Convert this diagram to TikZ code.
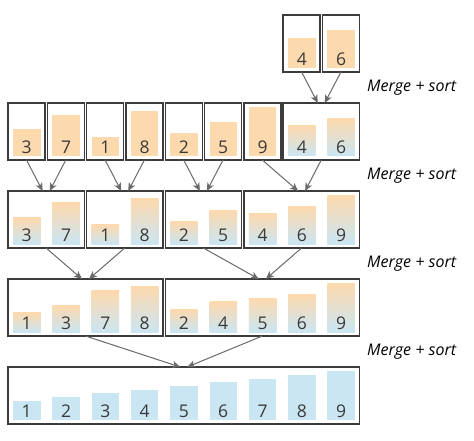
\documentclass[tikz,border=0pt]{standalone}
\usepackage{fontspec}
\setmainfont{Open Sans}
\usetikzlibrary{arrows.meta}
\definecolor{barorange}{HTML}{FDD9AE}
\definecolor{barblue}{HTML}{CBE6F3}
\definecolor{boxline}{HTML}{3C3C3C}
\definecolor{arrgray}{HTML}{6A6A6A}
\definecolor{digitcol}{HTML}{3A3A3A}
\tikzset{
  boxst/.style={draw=boxline, line width=1.4pt, fill=white, minimum height=57pt, inner sep=0pt, outer sep=0pt},
  orangebar/.style={fill=barorange},
  bluebar/.style={fill=barblue},
  gradbar/.style={top color=barorange, bottom color=barblue},
  digit/.style={text=digitcol, font=\fontsize{17.5}{17.5}\selectfont, inner sep=0pt},
  steplabel/.style={font=\fontsize{16}{16}\selectfont\itshape, text=black, anchor=west, inner sep=0pt},
  arr/.style={draw=arrgray, line width=1pt, -{Stealth[length=8pt,width=7pt,inset=2pt]}},
}
\newcommand\mkbox[4]{\node[boxst, minimum width={37+39.3*(#4-#3)}, anchor=north west] (#1) at ({8+39.3*#3},{15+88*#2}) {};}
\newcommand\mkbar[4]{%
  \path[#4] ({13+39.3*#1},{15+88*#2+53}) rectangle ++(27.5,{-(15.5+3.7*#3)});
  \node[digit] at ({26.75+39.3*#1},{15+88*#2+44}) {#3};}
\begin{document}
\begin{tikzpicture}[x=1pt,y=-1pt]
\useasboundingbox[fill=white] (0,0) rectangle (474,441);
% row 0
\mkbox{ra}{0}{7}{7}
\mkbox{rb}{0}{8}{8}
\mkbar{7}{0}{4}{orangebar}
\mkbar{8}{0}{6}{orangebar}
% row 1
\mkbox{sa}{1}{0}{0}
\mkbox{sb}{1}{1}{1}
\mkbox{sc}{1}{2}{2}
\mkbox{sd}{1}{3}{3}
\mkbox{se}{1}{4}{4}
\mkbox{sf}{1}{5}{5}
\mkbox{sg}{1}{6}{6}
\mkbox{sh}{1}{7}{8}
\mkbar{0}{1}{3}{orangebar}
\mkbar{1}{1}{7}{orangebar}
\mkbar{2}{1}{1}{orangebar}
\mkbar{3}{1}{8}{orangebar}
\mkbar{4}{1}{2}{orangebar}
\mkbar{5}{1}{5}{orangebar}
\mkbar{6}{1}{9}{orangebar}
\mkbar{7}{1}{4}{gradbar}
\mkbar{8}{1}{6}{gradbar}
% row 2
\mkbox{ta}{2}{0}{1}
\mkbox{tb}{2}{2}{3}
\mkbox{tc}{2}{4}{5}
\mkbox{td}{2}{6}{8}
\mkbar{0}{2}{3}{gradbar}
\mkbar{1}{2}{7}{gradbar}
\mkbar{2}{2}{1}{gradbar}
\mkbar{3}{2}{8}{gradbar}
\mkbar{4}{2}{2}{gradbar}
\mkbar{5}{2}{5}{gradbar}
\mkbar{6}{2}{4}{gradbar}
\mkbar{7}{2}{6}{gradbar}
\mkbar{8}{2}{9}{gradbar}
% row 3
\mkbox{ua}{3}{0}{3}
\mkbox{ub}{3}{4}{8}
\mkbar{0}{3}{1}{gradbar}
\mkbar{1}{3}{3}{gradbar}
\mkbar{2}{3}{7}{gradbar}
\mkbar{3}{3}{8}{gradbar}
\mkbar{4}{3}{2}{gradbar}
\mkbar{5}{3}{4}{gradbar}
\mkbar{6}{3}{5}{gradbar}
\mkbar{7}{3}{6}{gradbar}
\mkbar{8}{3}{9}{gradbar}
% row 4
\mkbox{va}{4}{0}{8}
\foreach \i in {0,...,8}{\pgfmathtruncatemacro\v{\i+1}\mkbar{\i}{4}{\v}{bluebar}}
% arrows
\draw[arr] (ra.south) -- ([xshift=-3.5pt]sh.north);
\draw[arr] (rb.south) -- ([xshift=3.5pt]sh.north);
\draw[arr] (sa.south) -- ([xshift=-3.5pt]ta.north);
\draw[arr] (sb.south) -- ([xshift=3.5pt]ta.north);
\draw[arr] (sc.south) -- ([xshift=-3.5pt]tb.north);
\draw[arr] (sd.south) -- ([xshift=3.5pt]tb.north);
\draw[arr] (se.south) -- ([xshift=-3.5pt]tc.north);
\draw[arr] (sf.south) -- ([xshift=3.5pt]tc.north);
\draw[arr] (sg.south) -- ([xshift=-3.5pt]td.north);
\draw[arr] (sh.south) -- ([xshift=3.5pt]td.north);
\draw[arr] (ta.south) -- ([xshift=-3.5pt]ua.north);
\draw[arr] (tb.south) -- ([xshift=3.5pt]ua.north);
\draw[arr] (tc.south) -- ([xshift=-3.5pt]ub.north);
\draw[arr] (td.south) -- ([xshift=3.5pt]ub.north);
\draw[arr] (ua.south) -- ([xshift=-3.5pt]va.north);
\draw[arr] (ub.south) -- ([xshift=3.5pt]va.north);
% labels
\node[steplabel] (l1) at (367,88) {Merge + sort};
\node[steplabel] (l2) at (367,176) {Merge + sort};
\node[steplabel] (l3) at (367,264) {Merge + sort};
\node[steplabel] (l4) at (367,352) {Merge + sort};
\end{tikzpicture}
\end{document}
